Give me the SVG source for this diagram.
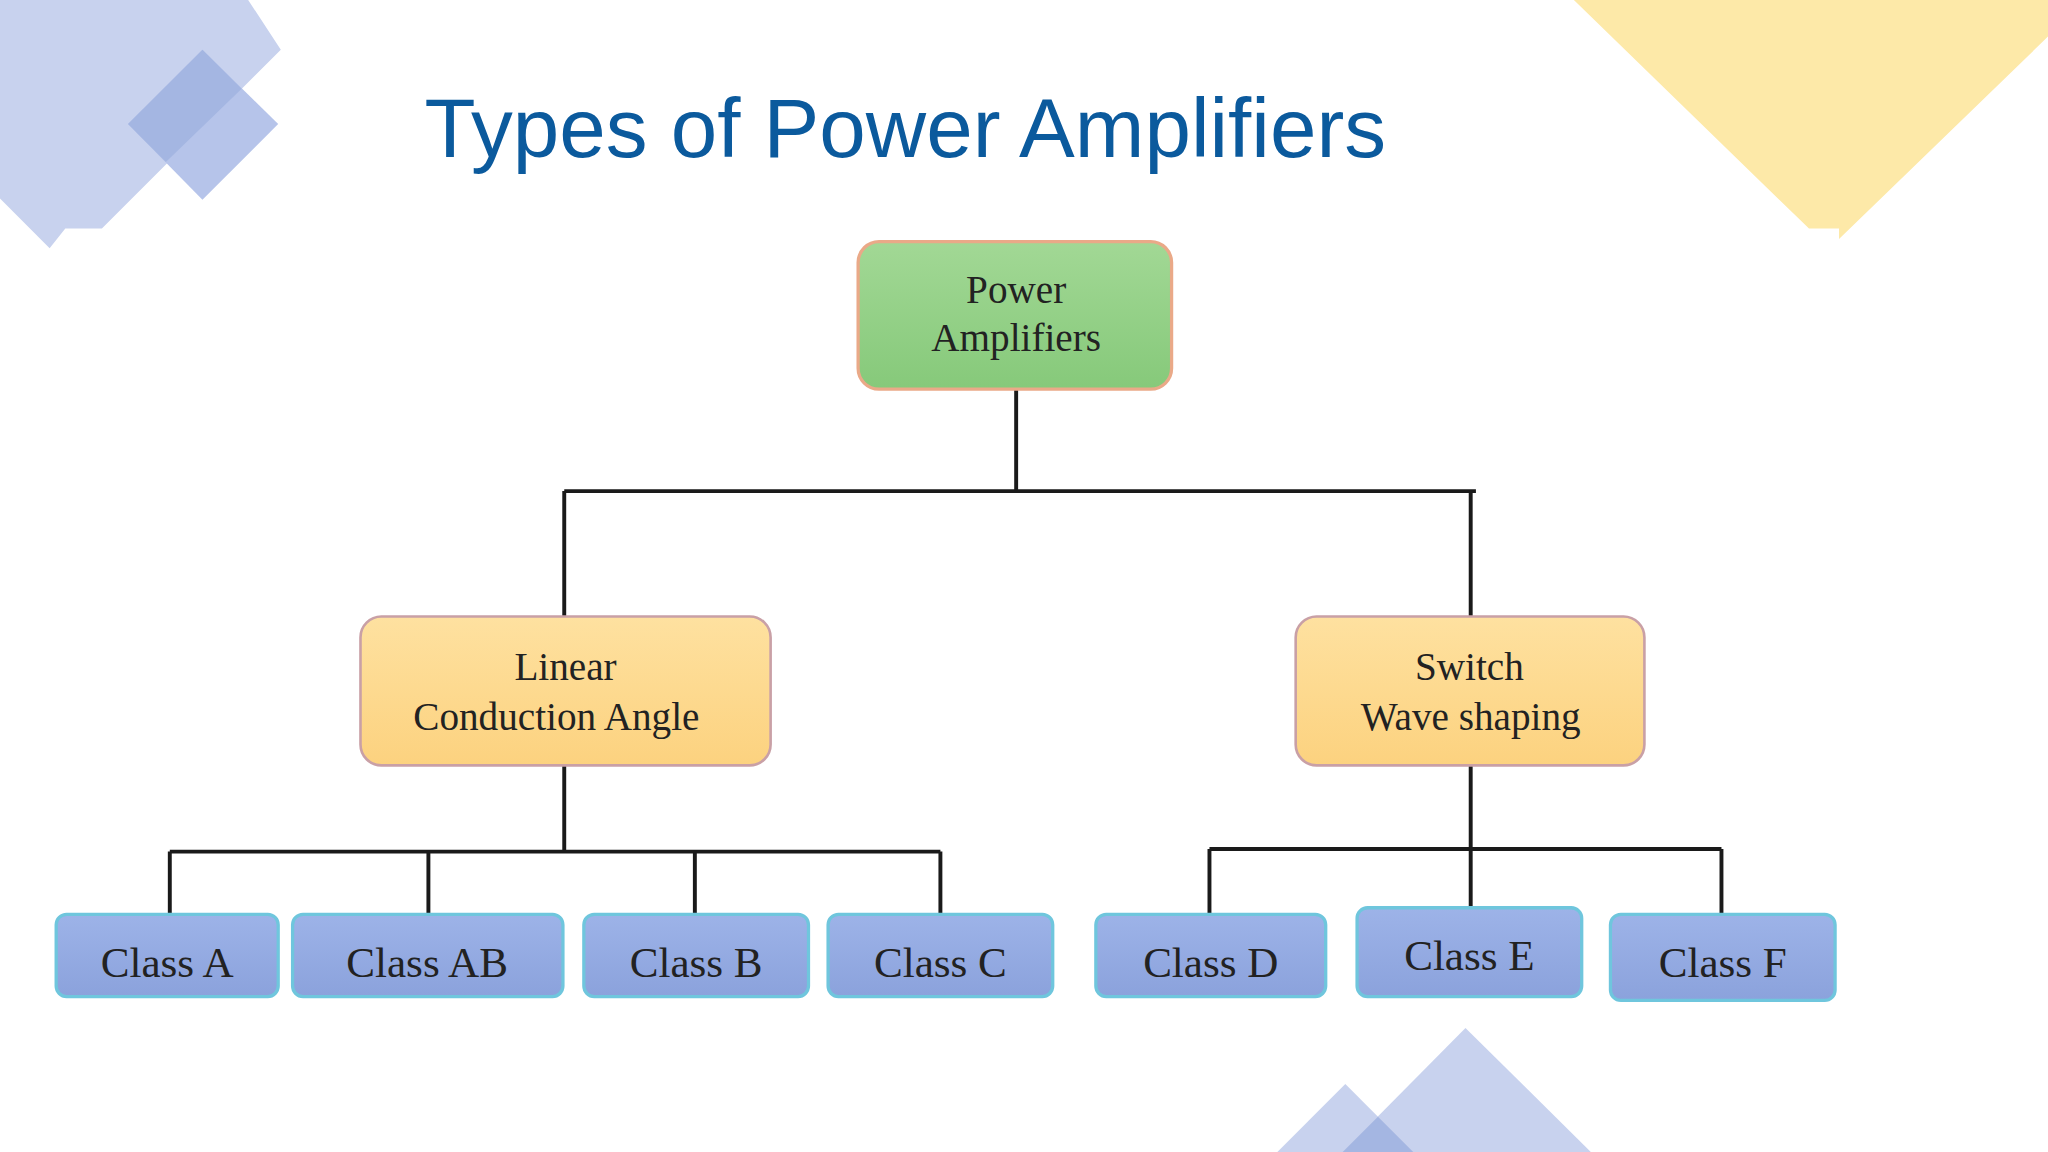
<svg xmlns="http://www.w3.org/2000/svg" width="2048" height="1152" viewBox="0 0 2048 1152">
<defs>
<style>
.leaf rect{fill:url(#gb);stroke:#6fc6dd;stroke-width:2.5}
.leaf text,.mid text,.root text{font-family:"Liberation Serif",serif;fill:#222;text-anchor:middle}
.leaf text{font-size:33px}
.mid text,.root text{font-size:30px}
.mid rect{fill:url(#gy);stroke:#c9a0a6;stroke-width:2}
.root rect{fill:url(#gg);stroke:#eaa988;stroke-width:2.5}
#edges path{fill:none;stroke:#1a1a1a;stroke-width:3}
</style>
<linearGradient id="gb" x1="0" y1="0" x2="0" y2="1"><stop offset="0" stop-color="#9db3e8"/><stop offset="1" stop-color="#8ba2dc"/></linearGradient>
<linearGradient id="gy" x1="0" y1="0" x2="0" y2="1"><stop offset="0" stop-color="#fee1a0"/><stop offset="1" stop-color="#fcd27f"/></linearGradient>
<linearGradient id="gg" x1="0" y1="0" x2="0" y2="1"><stop offset="0" stop-color="#a2d895"/><stop offset="1" stop-color="#86c97a"/></linearGradient>
</defs>
<rect width="2048" height="1152" fill="#ffffff"/>
<g transform="scale(1.30612)">
<polygon points="0,0 190,0 215,38 78,175 50,175 38,190 0,152" fill="#c8d2ee"/>
<polygon points="155,38 213,95 155,153 98,95" fill="#b6c4ea"/>
<polygon points="155,38 185,68 127,124 98,95" fill="#a4b6e2"/>
<polygon points="1205,0 1568,0 1568,28 1408,183 1408,175 1385,175" fill="#fde9a8"/>
<polygon points="1122,787 1218,882 1028,882" fill="#c8d2ee"/>
<polygon points="1030,830 1082,882 978,882" fill="#c8d2ee"/>
<polygon points="1055,855 1082,882 1028,882" fill="#a4b6e2"/>
<text x="325" y="120" font-family="Liberation Sans, Arial, sans-serif" font-size="64" fill="#0b5a9d">Types of Power Amplifiers</text>
<g id="edges">
<path d="M778,298 V376 M432,376 H1130 M432,376 V472 M1126,376 V472"/>
<path d="M432,586 V652 M130,652 H720 M130,652 V700 M328,652 V700 M532,652 V700 M720,652 V700"/>
<path d="M1126,586 V650 M926,650 H1318 M926,650 V700 M1126,650 V695 M1318,650 V700"/>
</g>
<g id="root" class="root"><rect x="657" y="185" width="240" height="113" rx="16"/><text x="778" y="232">Power</text><text x="778" y="269">Amplifiers</text></g>
<g id="linear" class="mid"><rect x="276" y="472" width="314" height="114" rx="16"/><text x="433" y="521">Linear</text><text x="426" y="559">Conduction Angle</text></g>
<g id="switch" class="mid"><rect x="992" y="472" width="267" height="114" rx="16"/><text x="1125" y="521">Switch</text><text x="1126" y="559">Wave shaping</text></g>
<g id="classA" class="leaf"><rect x="43" y="700" width="170" height="63" rx="8"/><text x="128" y="748">Class A</text></g>
<g id="classAB" class="leaf"><rect x="224" y="700" width="207" height="63" rx="8"/><text x="327" y="748">Class AB</text></g>
<g id="classB" class="leaf"><rect x="447" y="700" width="172" height="63" rx="8"/><text x="533" y="748">Class B</text></g>
<g id="classC" class="leaf"><rect x="634" y="700" width="172" height="63" rx="8"/><text x="720" y="748">Class C</text></g>
<g id="classD" class="leaf"><rect x="839" y="700" width="176" height="63" rx="8"/><text x="927" y="748">Class D</text></g>
<g id="classE" class="leaf"><rect x="1039" y="695" width="172" height="68" rx="8"/><text x="1125" y="743">Class E</text></g>
<g id="classF" class="leaf"><rect x="1233" y="700" width="172" height="66" rx="8"/><text x="1319" y="748">Class F</text></g>
</g>
</svg>
